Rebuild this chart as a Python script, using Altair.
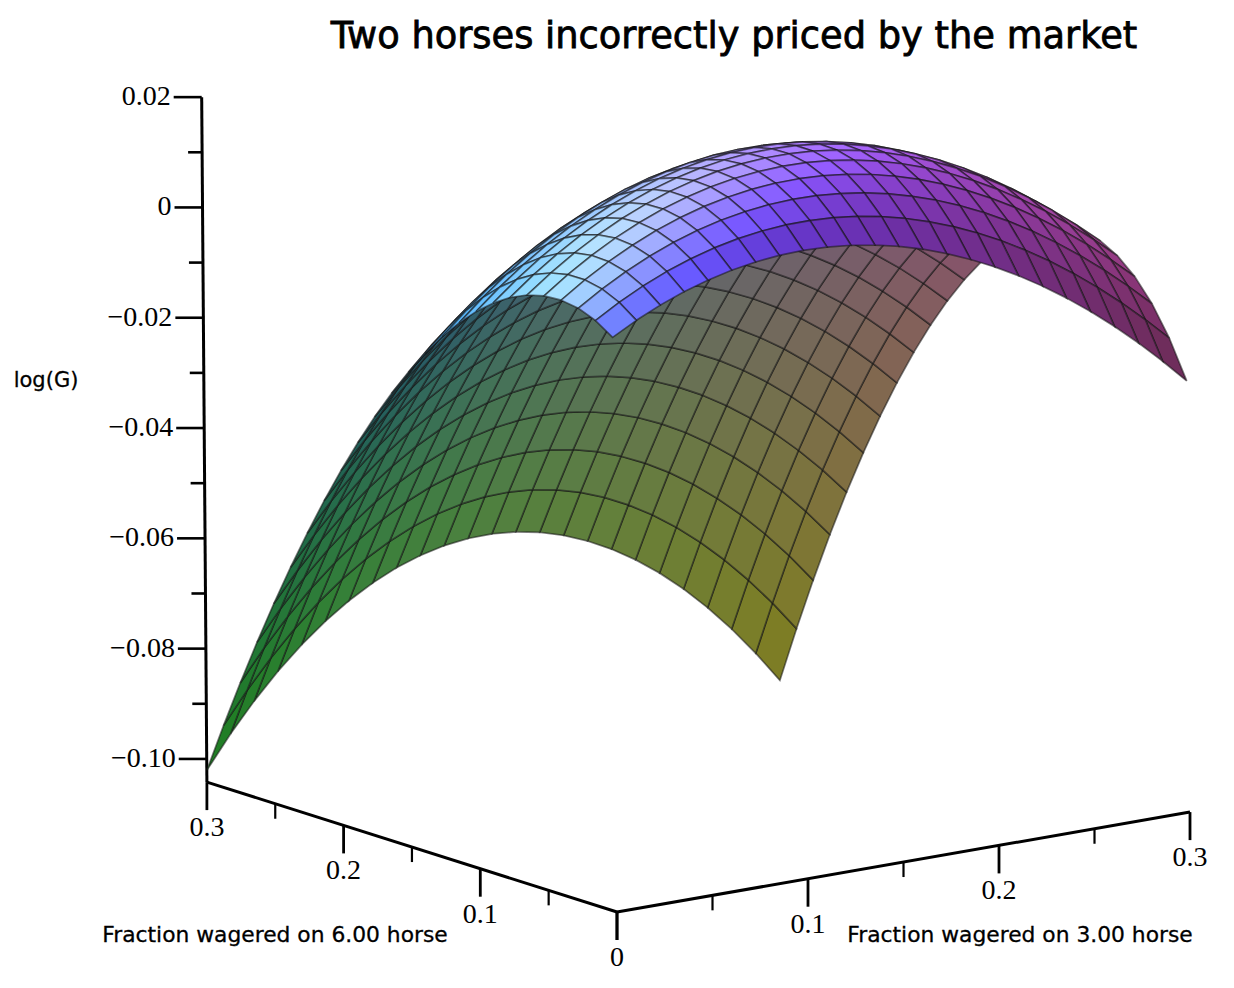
"""
Wager surface: log(G) against the fractions staked on two mispriced horses.
Drawn as a painter-sorted quad mesh, through an identity projection.
"""

import altair as alt
import numpy as np

# ── 0. Values ────────────────────────────────────────────────────────────────
f3_step = 0.0125   # grid spacing, fraction on the 3.00 horse (25 grid lines)
f6_step = 0.0125   # grid spacing, fraction on the 6.00 horse (25 grid lines)

# log(G) x 1000, one row per 6.00-horse grid line, one column per 3.00-horse line
log_g_milli = [
    [0, 2.33, 4.33, 6.0, 7.34, 8.39, 9.13, 9.57, 9.72, 9.57, 9.14, 8.43, 7.44, 6.17, 4.62, 2.80, 0.70, -1.67, -4.31, -7.23, -10.42, -13.89, -17.65, -21.69, -26.01],
    [2.06, 4.60, 6.80, 8.67, 10.22, 11.46, 12.39, 13.02, 13.36, 13.40, 13.17, 12.64, 11.84, 10.76, 9.39, 7.77, 5.86, 3.69, 1.24, -1.48, -4.48, -7.75, -11.30, -15.14, -19.25],
    [3.30, 6.03, 8.42, 10.48, 12.21, 13.62, 14.73, 15.53, 16.04, 16.25, 16.17, 15.81, 15.17, 14.25, 13.04, 11.58, 9.83, 7.82, 5.53, 2.97, 0.12, -2.98, -6.37, -10.04, -13.99],
    [3.79, 6.71, 9.27, 11.50, 13.40, 14.97, 16.23, 17.18, 17.84, 18.20, 18.27, 18.05, 17.55, 16.77, 15.70, 14.37, 12.75, 10.87, 8.71, 6.28, 3.56, 0.59, -2.68, -6.23, -10.05],
    [3.59, 6.68, 9.41, 11.80, 13.84, 15.56, 16.96, 18.05, 18.84, 19.34, 19.54, 19.44, 19.06, 18.40, 17.45, 16.23, 14.73, 12.96, 10.90, 8.57, 5.96, 3.08, -0.09, -3.54, -7.27],
    [2.76, 6.00, 8.89, 11.42, 13.62, 15.47, 17.00, 18.22, 19.14, 19.75, 20.06, 20.07, 19.80, 19.24, 18.39, 17.26, 15.85, 14.16, 12.19, 9.95, 7.42, 4.61, 1.51, -1.88, -5.54],
    [1.33, 4.72, 7.75, 10.42, 12.75, 14.73, 16.39, 17.73, 18.75, 19.47, 19.88, 19.99, 19.81, 19.33, 18.57, 17.52, 16.18, 14.56, 12.66, 10.48, 8.01, 5.25, 2.21, -1.13, -4.74],
    [-0.67, 2.88, 6.05, 8.85, 11.31, 13.41, 15.18, 16.63, 17.74, 18.56, 19.06, 19.26, 19.16, 18.76, 18.06, 17.08, 15.81, 14.24, 12.39, 10.26, 7.83, 5.10, 2.10, -1.22, -4.81],
    [-3.19, 0.50, 3.80, 6.73, 9.30, 11.52, 13.40, 14.94, 16.15, 17.05, 17.63, 17.91, 17.88, 17.55, 16.91, 15.98, 14.75, 13.23, 11.41, 9.31, 6.91, 4.21, 1.22, -2.09, -5.68],
    [-6.22, -2.39, 1.05, 4.11, 6.79, 9.11, 11.09, 12.73, 14.02, 14.99, 15.65, 15.99, 16.02, 15.74, 15.16, 14.26, 13.07, 11.58, 9.79, 7.71, 5.31, 2.62, -0.37, -3.70, -7.30],
    [-9.72, -5.76, -2.19, 0.98, 3.77, 6.20, 8.27, 9.99, 11.37, 12.41, 13.13, 13.53, 13.61, 13.37, 12.82, 11.96, 10.79, 9.32, 7.54, 5.46, 3.07, 0.37, -2.64, -5.98, -9.61],
    [-13.69, -9.59, -5.90, -2.61, 0.29, 2.81, 4.97, 6.78, 8.23, 9.33, 10.11, 10.55, 10.67, 10.47, 9.95, 9.11, 7.97, 6.50, 4.73, 2.63, 0.23, -2.50, -5.54, -8.91, -12.58],
    [-18.10, -13.86, -10.04, -6.65, -3.65, -1.04, 1.20, 3.09, 4.61, 5.77, 6.59, 7.07, 7.23, 7.05, 6.56, 5.74, 4.60, 3.13, 1.35, -0.77, -3.20, -5.96, -9.03, -12.45, -16.19],
    [-22.93, -18.56, -14.63, -11.13, -8.03, -5.32, -3.01, -1.05, 0.53, 1.75, 2.62, 3.13, 3.32, 3.17, 2.69, 1.87, 0.72, -0.77, -2.56, -4.72, -7.18, -9.98, -13.11, -16.59, -20.42],
    [-28.18, -23.68, -19.63, -16.02, -12.82, -10.03, -7.64, -5.63, -3.99, -2.73, -1.82, -1.27, -1.06, -1.20, -1.67, -2.50, -3.66, -5.16, -6.99, -9.18, -11.69, -14.55, -17.75, -21.31, -25.22],
    [-33.84, -29.21, -25.05, -21.33, -18.03, -15.16, -12.70, -10.63, -8.94, -7.63, -6.69, -6.11, -5.89, -6.03, -6.50, -7.34, -8.52, -10.05, -11.92, -14.15, -16.72, -19.65, -22.94, -26.59, -30.60],
    [-39.89, -35.14, -30.86, -27.03, -23.64, -20.69, -18.16, -16.03, -14.30, -12.95, -11.98, -11.39, -11.15, -11.29, -11.78, -12.64, -13.84, -15.41, -17.33, -19.62, -22.26, -25.27, -28.65, -32.41, -36.54],
    [-46.33, -41.45, -37.05, -33.13, -29.65, -26.63, -24.03, -21.85, -20.07, -18.68, -17.69, -17.08, -16.85, -17.00, -17.50, -18.38, -19.62, -21.24, -23.22, -25.59, -28.31, -31.41, -34.90, -38.78, -43.04],
    [-53.17, -48.15, -43.63, -39.61, -36.05, -32.95, -30.28, -28.05, -26.24, -24.82, -23.80, -23.19, -22.96, -23.12, -23.65, -24.56, -25.85, -27.53, -29.58, -32.03, -34.84, -38.06, -41.66, -45.67, -50.08],
    [-60.37, -55.23, -50.60, -46.48, -42.83, -39.66, -36.93, -34.65, -32.80, -31.36, -30.33, -29.71, -29.49, -29.67, -30.24, -31.20, -32.54, -34.29, -36.41, -38.95, -41.87, -45.20, -48.94, -53.09, -57.67],
    [-67.95, -62.68, -57.94, -53.72, -49.99, -46.74, -43.95, -41.63, -39.74, -38.29, -37.25, -36.64, -36.42, -36.63, -37.24, -38.26, -39.66, -41.49, -43.70, -46.34, -49.37, -52.84, -56.72, -61.03, -65.79],
    [-75.92, -70.51, -65.66, -61.34, -57.52, -54.20, -51.36, -48.99, -47.07, -45.60, -44.56, -43.96, -43.77, -44.01, -44.67, -45.74, -47.22, -49.14, -51.45, -54.20, -57.37, -60.97, -65.02, -69.51, -74.48],
    [-84.26, -78.72, -73.75, -69.33, -65.43, -62.04, -59.14, -56.73, -54.78, -53.31, -52.27, -51.68, -51.52, -51.80, -52.51, -53.65, -55.22, -57.23, -59.66, -62.53, -65.85, -69.60, -73.83, -78.52, -83.72],
    [-92.98, -87.30, -82.21, -77.69, -73.70, -70.25, -67.30, -64.86, -62.89, -61.40, -60.37, -59.80, -59.68, -60.01, -60.79, -62.00, -63.67, -65.78, -68.34, -71.35, -74.82, -78.76, -83.18, -88.09, -93.51],
    [-102.08, -96.25, -91.04, -86.42, -82.35, -78.84, -75.84, -73.36, -71.38, -69.89, -68.87, -68.33, -68.25, -68.64, -69.48, -70.79, -72.56, -74.79, -77.48, -80.64, -84.28, -88.42, -93.06, -98.21, -103.88],
]

z_major = [0.02, 0, -0.02, -0.04, -0.06, -0.08, -0.10]
z_minor = [0.01, -0.01, -0.03, -0.05, -0.07, -0.09]
z_labels = ["0.02", "0", "\u22120.02", "\u22120.04", "\u22120.06", "\u22120.08", "\u22120.10"]
floor_major = [0, 0.1, 0.2, 0.3]
floor_minor = [0.05, 0.15, 0.25]
floor_labels = ["0", "0.1", "0.2", "0.3"]

Z_FLOOR = -0.1042
Z_TOP = 0.02
Z_SPAN = 0.124


# ── 1. Oblique view of the box, in page pixels less the 8px margin ───────────
def view(f3, f6, z):
    h = z - Z_FLOOR
    return [609 + 1910 * f3 - 1367 * f6 - 42 * h, 904 - 333 * f3 - 433 * f6 - 5515 * h]


z_grid = np.array(log_g_milli) / 1000.0
n_f6, n_f3 = z_grid.shape


def hex_colour(rgb):
    return "#" + "".join(f"{int(round(255 * min(max(c, 0), 1))):02x}" for c in rgb)


# ── 2. Quads, far ones first, coloured by (f3, f6, z) with simple lighting ───
light = np.array([-0.5, 0.3, 1.0])
light = light / np.linalg.norm(light)
shine = np.array([-0.6, 0.0, 1.0])
shine = shine / np.linalg.norm(shine)
glint_tint = np.array([0.85, 1.05, 1.0])

quads = []
for j in range(n_f6 - 1):
    for i in range(n_f3 - 1):
        corners = [(i, j), (i + 1, j), (i + 1, j + 1), (i, j + 1)]
        ring = [view(a * f3_step, b * f6_step, z_grid[b, a]) for a, b in corners]
        area = sum(
            ring[k][0] * ring[(k + 1) % 4][1] - ring[(k + 1) % 4][0] * ring[k][1]
            for k in range(4)
        )
        z_mean = np.mean([z_grid[b, a] for a, b in corners])
        base = np.array(
            [(i + 0.5) / (n_f3 - 1), (j + 0.5) / (n_f6 - 1), (z_mean - Z_FLOOR) / Z_SPAN]
        )
        dz_x = (z_grid[j, i + 1] - z_grid[j, i] + z_grid[j + 1, i + 1] - z_grid[j + 1, i]) / 2 * 24 / Z_SPAN
        dz_y = (z_grid[j + 1, i] - z_grid[j, i] + z_grid[j + 1, i + 1] - z_grid[j, i + 1]) / 2 * 24 / Z_SPAN
        normal = np.array([-dz_x, -dz_y, 1.0])
        normal = normal / np.linalg.norm(normal)
        if area < 0:  # top side faces us
            lam = max(normal @ light, 0)
            glint = max(normal @ shine, 0) ** 8
            rgb = base * np.array([1, 1, 1.05]) * (0.2 + 0.72 * lam) + 0.17 + 0.55 * glint * glint_tint
        else:  # underside
            lam = abs(normal[2])
            rgb = base * (0.33 + 0.12 * lam) + 0.12
        quads.append(
            {
                "type": "Feature",
                "geometry": {"type": "Polygon", "coordinates": [ring + [ring[0]]]},
                "properties": {"fill": hex_colour(rgb), "depth": 5.87 * i + 8.22 * j},
            }
        )
quads.sort(key=lambda q: -q["properties"]["depth"])


# ── 3. Axis lines and ticks as line features ─────────────────────────────────
def line(a, b, w):
    return {
        "type": "Feature",
        "geometry": {"type": "LineString", "coordinates": [a, b]},
        "properties": {"w": w},
    }


origin = view(0, 0, Z_FLOOR)
end_f3 = view(0.3, 0, Z_FLOOR)
end_f6 = view(0, 0.3, Z_FLOOR)
axis_lines = [line(origin, end_f3, 3), line(origin, end_f6, 3)]

for v in floor_major + floor_minor:
    size, w = (28, 2.8) if v in floor_major else (15, 2.2)
    for p in (view(v, 0, Z_FLOOR), view(0, v, Z_FLOOR)):
        axis_lines.append(line(p, [p[0], p[1] + size], w))

z_axis_top = view(0, 0.3, Z_TOP)
axis_lines.append(line(z_axis_top, end_f6, 3))
for v in z_major + z_minor:
    p = view(0, 0.3, v)
    size = 28 if v in z_major else 14
    axis_lines.append(line([p[0] - size, p[1]], p, 2.6))

# ── 4. Text ──────────────────────────────────────────────────────────────────
tick_text = []
for v, s in zip(z_major, z_labels):
    p = view(0, 0.3, v)
    tick_text.append({"x": p[0] - 31, "y": p[1], "t": s, "a": "right"})
for v, s in zip(floor_major, floor_labels):
    p = view(0, v, Z_FLOOR)
    if v > 0:
        tick_text.append({"x": p[0], "y": p[1] + 46, "t": s, "a": "center"})
    p = view(v, 0, Z_FLOOR)
    tick_text.append({"x": p[0], "y": p[1] + 46, "t": s, "a": "center"})

hand_text = [
    {"x": 726, "y": 29, "t": "Two horses incorrectly priced by the market", "s": 36.8, "w": 0.8},
    {"x": 267, "y": 927, "t": "Fraction wagered on 6.00 horse", "s": 21.8, "w": 0.3},
    {"x": 1012, "y": 927, "t": "Fraction wagered on 3.00 horse", "s": 21.8, "w": 0.3},
    {"x": 38, "y": 373, "t": "log(G)", "s": 21, "w": 0.3},
]

# ── 5. Layers ────────────────────────────────────────────────────────────────
geo = alt.Projection(type="identity", scale=1, translate=[0, 0])

axes_layer = (
    alt.Chart(alt.Data(values=axis_lines))
    .mark_geoshape(filled=False, stroke="black")
    .encode(strokeWidth=alt.StrokeWidth("properties.w:Q", scale=None))
    .project(**geo.to_dict())
)

surface_layer = (
    alt.Chart(alt.Data(values=quads))
    .mark_geoshape(stroke="#141414", strokeWidth=1.7, strokeOpacity=0.55)
    .encode(fill=alt.Fill("properties.fill:N", scale=None))
    .project(**geo.to_dict())
)

tick_layers = [
    alt.Chart(alt.Data(values=[r for r in tick_text if r["a"] == a]))
    .mark_text(font="Liberation Serif", fontSize=28, align=a, baseline="middle", color="black")
    .encode(longitude="x:Q", latitude="y:Q", text="t:N")
    .project(**geo.to_dict())
    for a in ("right", "center")
]

hand_layer = (
    alt.Chart(alt.Data(values=hand_text))
    .mark_text(font="DejaVu Sans", align="center", baseline="middle", color="black", stroke="black")
    .encode(
        longitude="x:Q",
        latitude="y:Q",
        text="t:N",
        size=alt.Size("s:Q", scale=None),
        strokeWidth=alt.StrokeWidth("w:Q", scale=None),
    )
    .project(**geo.to_dict())
)

chart = (
    alt.layer(axes_layer, surface_layer, *tick_layers, hand_layer)
    .properties(width=1218, height=972, padding=0)
    .configure_view(stroke=None)
)

chart.save("out.html", embed_options={"renderer": "svg", "actions": False})
